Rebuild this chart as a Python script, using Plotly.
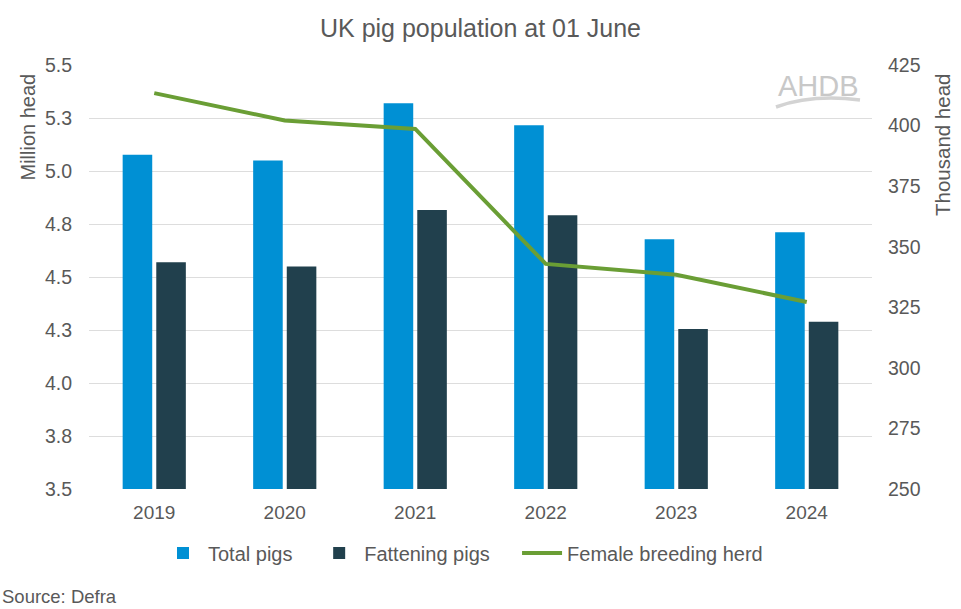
import plotly.graph_objects as go

years = ["2019", "2020", "2021", "2022", "2023", "2024"]
total_pigs = [5.077, 5.050, 5.319, 5.216, 4.678, 4.711]
fattening_pigs = [4.569, 4.550, 4.816, 4.791, 4.255, 4.289]
female_breeding_herd = [413.4, 402.1, 398.6, 342.9, 338.4, 327.2]

left_tickvals = [3.5, 3.75, 4.0, 4.25, 4.5, 4.75, 5.0, 5.25, 5.5]
left_ticktext = ["3.5", "3.8", "4.0", "4.3", "4.5", "4.8", "5.0", "5.3", "5.5"]
right_tickvals = [250, 275, 300, 325, 350, 375, 400, 425]

FONT = "Liberation Sans, Arial, sans-serif"
GREY = "#595959"
NB = "\u00a0"

fig = go.Figure()
fig.add_trace(go.Bar(x=years, y=total_pigs, name="Total pigs" + NB * 3,
                     marker=dict(color="#0090D4", line=dict(width=0)), yaxis="y"))
fig.add_trace(go.Bar(x=years, y=fattening_pigs, name="Fattening pigs" + NB * 4,
                     marker=dict(color="#21404D", line=dict(width=0)), yaxis="y"))
fig.add_trace(go.Scatter(x=years, y=female_breeding_herd, name="Female breeding herd",
                         mode="lines", line=dict(color="#6A9E35", width=4), yaxis="y2"))

fig.update_layout(
    width=961, height=609,
    margin=dict(l=89, r=89, t=65, b=120),
    paper_bgcolor="white", plot_bgcolor="white",
    font=dict(family=FONT, color=GREY, size=19),
    title=dict(text="UK pig population at 01 June", x=0.5, xanchor="center",
               y=1 - 28 / 609, yanchor="middle", font=dict(size=25, color=GREY)),
    barmode="group", bargap=0.485, bargroupgap=0.12,
    xaxis=dict(showgrid=False, showline=False, ticks="", tickfont=dict(size=19, color=GREY),
               ticklabelstandoff=10),
    yaxis=dict(range=[3.5, 5.5], tickvals=left_tickvals, ticktext=left_ticktext,
               showgrid=True, gridcolor="#DDDDDD", gridwidth=1, zeroline=False,
               showline=False, tickfont=dict(size=19.5, color=GREY), ticklabelstandoff=16),
    yaxis2=dict(range=[250, 425], tickvals=right_tickvals, overlaying="y", side="right",
                showgrid=False, zeroline=False, showline=False,
                tickfont=dict(size=19.5, color=GREY), ticklabelstandoff=15),
    legend=dict(orientation="h", x=(158 - 89) / 783, xanchor="left", y=-0.151, yanchor="middle",
                font=dict(size=20, color=GREY), itemwidth=40, tracegroupgap=0,
                traceorder="normal"),
    showlegend=True,
)

# axis titles (top-aligned as in the reference)
fig.add_annotation(text="Million head", xref="paper", yref="paper", textangle=-90,
                   x=(27 - 89) / 783, xanchor="center", y=(489 - 71) / 424, yanchor="top",
                   showarrow=False, font=dict(size=20, color=GREY))
fig.add_annotation(text="Thousand head", xref="paper", yref="paper", textangle=-90,
                   x=(942 - 89) / 783, xanchor="center", y=(489 - 72) / 424, yanchor="top",
                   showarrow=False, font=dict(size=20.5, color=GREY))

fig.add_annotation(text="Source: Defra", xref="paper", yref="paper",
                   x=-89 / 783, xanchor="left", y=(489 - 596) / 424, yanchor="middle",
                   showarrow=False, font=dict(size=18.5, color=GREY))
fig.add_annotation(text="AHDB", xref="paper", yref="paper",
                   x=(818 - 89) / 783, xanchor="center", y=(489 - 86) / 424, yanchor="middle",
                   showarrow=False, font=dict(size=29, color="#C8C8C8"))
fig.add_shape(type="path", xref="paper", yref="paper",
              path="M {a},{b} Q {c},{d} {e},{f}".format(
                  a=(776 - 89) / 783, b=(489 - 107) / 424,
                  c=(812 - 89) / 783, d=(489 - 94) / 424,
                  e=(860 - 89) / 783, f=(489 - 100) / 424),
              line=dict(color="#D3D3D3", width=3.5))

fig.write_html("out.html")
